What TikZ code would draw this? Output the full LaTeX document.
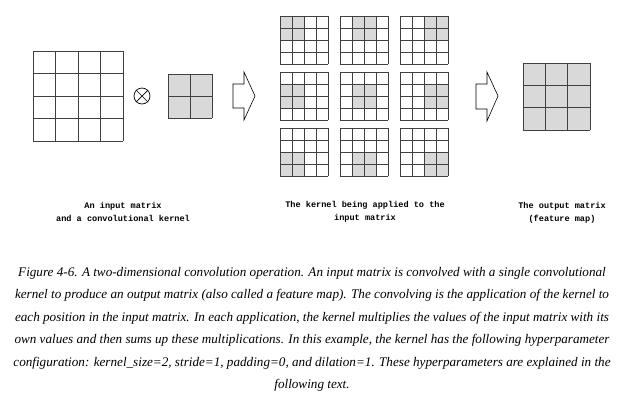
\documentclass[tikz,border=0pt]{standalone}
\usepackage{fontspec}
\setmainfont{Liberation Serif}
\newfontfamily\lblfont{Liberation Mono}
\begin{document}
\begin{tikzpicture}[x=1bp,y=-1bp,
  grid/.style={draw=black!75,line width=0.6bp},
  kfill/.style={fill=black!15},
  arr/.style={draw=black,line width=0.6bp,fill=white,line join=miter},
  lbl/.style={font=\lblfont\bfseries\fontsize{8.6}{13}\selectfont,align=center},
  captext/.style={font=\itshape\fontsize{13.2}{22.6}\selectfont,align=center}]
\useasboundingbox (0,0) rectangle (624,402);
% generic n x n grid: #1 x, #2 y, #3 cell, #4 n
\def\mygrid#1#2#3#4{%
  \foreach \k in {0,...,#4}{%
    \draw[grid] ({#1+\k*#3},#2) -- ({#1+\k*#3},{#2+#4*#3});
    \draw[grid] (#1,{#2+\k*#3}) -- ({#1+#4*#3},{#2+\k*#3});
  }}
% input matrix
\mygrid{33}{51}{22.5}{4}
% otimes
\node[draw,circle,minimum size=16bp,inner sep=0pt,line width=0.7bp] (ot) at (142,96) {};
\draw[line width=0.7bp] (ot.north west) -- (ot.south east) (ot.north east) -- (ot.south west);
% kernel
\fill[kfill] (168,74) rectangle (212,118);
\mygrid{168}{74}{22}{2}
% arrow 1
\draw[arr] (233,84) -- (244,84) -- (244,72) -- (255,96) -- (244,120) -- (244,108) -- (233,108) -- cycle;
% nine small matrices
\foreach \j/\y in {0/16,1/72,2/128}{
  \foreach \i/\x in {0/280,1/340,2/400}{
    \fill[kfill] ({\x+\i*12},{\y+\j*12}) rectangle ({\x+\i*12+24},{\y+\j*12+24});
    \mygrid{\x}{\y}{12}{4}
  }
}
% arrow 2
\draw[arr] (476,84) -- (487,84) -- (487,72) -- (498,96) -- (487,121) -- (487,109) -- (476,109) -- cycle;
% output
\fill[kfill] (523,63) rectangle (590,130);
\mygrid{523}{63}{22.333}{3}
% labels
\node[lbl] (l1) at (123,211.5) {An input matrix\\and a convolutional kernel};
\node[lbl] (l2) at (365,211.5) {The kernel being applied to the\\input matrix};
\node[lbl] (l3) at (562,212.5) {The output matrix\\(feature map)};
% caption
\node[captext] (c) at (312,329.5) {Figure 4-6. A two-dimensional convolution operation. An input matrix is convolved with a single convolutional\\
kernel to produce an output matrix (also called a feature map). The convolving is the application of the kernel to\\
each position in the input matrix. In each application, the kernel multiplies the values of the input matrix with its\\
own values and then sums up these multiplications. In this example, the kernel has the following hyperparameter\\
configuration: kernel\_size=2, stride=1, padding=0, and dilation=1. These hyperparameters are explained in the\\
following text.};
\end{tikzpicture}
\end{document}
